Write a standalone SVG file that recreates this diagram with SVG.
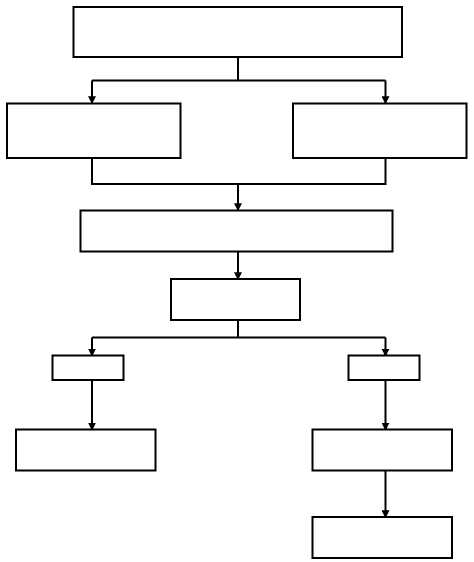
<svg xmlns="http://www.w3.org/2000/svg" width="474" height="562" viewBox="0 0 474 562">
<style>
.n{fill:#fff;stroke:#000;stroke-width:2}
.c{fill:none;stroke:#000;stroke-width:2}
</style>
<defs>
<marker id="a" markerWidth="8" markerHeight="8" refX="6" refY="3.5" orient="auto" markerUnits="userSpaceOnUse" viewBox="0 0 7 7">
<path d="M0,0 L7,3.5 L0,7 Z" fill="#000"/>
</marker>
</defs>
<rect width="474" height="562" fill="#fff"/>
<g id="connectors">
<path class="c" d="M238,57 V80.5 M92,80.5 H385.5"/>
<path class="c" d="M92,80.5 V103" marker-end="url(#a)"/>
<path class="c" d="M385.5,80.5 V103" marker-end="url(#a)"/>
<path class="c" d="M92,158 V184 H385.5 V158"/>
<path class="c" d="M238,184 V210" marker-end="url(#a)"/>
<path class="c" d="M238,252 V279" marker-end="url(#a)"/>
<path class="c" d="M238,320 V337.5 M92,337.5 H385.5"/>
<path class="c" d="M92,337.5 V355.5" marker-end="url(#a)"/>
<path class="c" d="M385.5,337.5 V355.5" marker-end="url(#a)"/>
<path class="c" d="M92,380 V429.5" marker-end="url(#a)"/>
<path class="c" d="M385.5,380 V429.5" marker-end="url(#a)"/>
<path class="c" d="M385.5,471 V517" marker-end="url(#a)"/>
</g>
<g id="n1"><rect class="n" x="73.5" y="7" width="328.5" height="50"/></g>
<g id="n2"><rect class="n" x="7" y="103.5" width="173.5" height="54.5"/></g>
<g id="n3"><rect class="n" x="293" y="103.5" width="173.5" height="54.5"/></g>
<g id="n4"><rect class="n" x="80.5" y="210.5" width="312" height="41"/></g>
<g id="n5"><rect class="n" x="171" y="279" width="129" height="41"/></g>
<g id="n6"><rect class="n" x="52.5" y="355.5" width="71" height="24.5"/></g>
<g id="n7"><rect class="n" x="348.5" y="355.5" width="71" height="24.5"/></g>
<g id="n8"><rect class="n" x="16" y="429.5" width="139.5" height="41"/></g>
<g id="n9"><rect class="n" x="312.5" y="429.5" width="139.5" height="41"/></g>
<g id="n10"><rect class="n" x="312.5" y="517" width="139.5" height="41"/></g>
</svg>
